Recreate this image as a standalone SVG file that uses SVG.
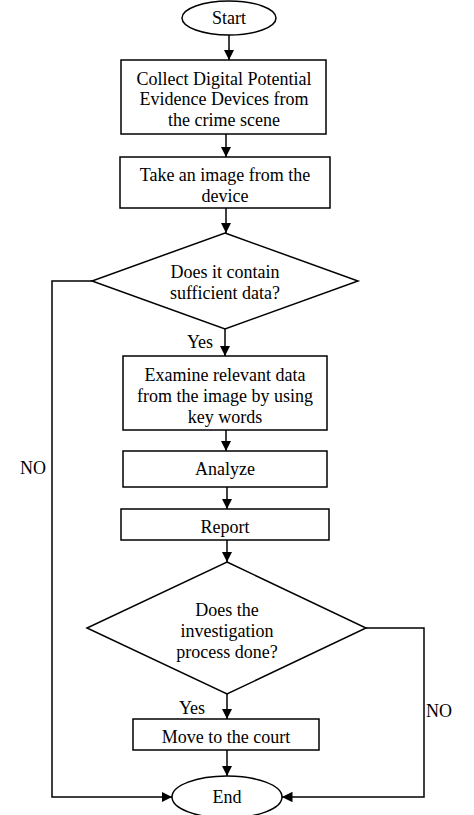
<svg xmlns="http://www.w3.org/2000/svg" width="474" height="815" viewBox="0 0 474 815">
<style>
.s{fill:#fff;stroke:#000;stroke-width:1.5}
.c{fill:none;stroke:#000;stroke-width:1.5}
text{font-family:"Liberation Serif","Times New Roman",serif;font-size:18px;fill:#000;text-anchor:middle}
</style>
<defs>
<marker id="a" viewBox="0 0 10 10" refX="10" refY="5" markerWidth="7" markerHeight="7" orient="auto" markerUnits="strokeWidth">
<path d="M0,0 L10,5 L0,10 z" fill="#000"/>
</marker>
</defs>
<rect width="474" height="815" fill="#fff"/>
<g id="connectors">
<path class="c" d="M229,35 V60" marker-end="url(#a)"/>
<path class="c" d="M226,134 V157" marker-end="url(#a)"/>
<path class="c" d="M226,208 V233" marker-end="url(#a)"/>
<path class="c" d="M225,329 V356" marker-end="url(#a)"/>
<path class="c" d="M226,430 V451" marker-end="url(#a)"/>
<path class="c" d="M227,487 V509" marker-end="url(#a)"/>
<path class="c" d="M227,540 V562" marker-end="url(#a)"/>
<path class="c" d="M227,694 V719" marker-end="url(#a)"/>
<path class="c" d="M227,750 V776" marker-end="url(#a)"/>
<path class="c" d="M92,281 H52 V797 H172" marker-end="url(#a)"/>
<path class="c" d="M366,628 H424 V797 H282" marker-end="url(#a)"/>
<text x="200" y="348">Yes</text>
<text x="192" y="714">Yes</text>
<text x="33" y="474">NO</text>
<text x="439" y="717">NO</text>
</g>
<g id="start">
<ellipse class="s" cx="229" cy="18" rx="47" ry="17"/>
<text x="229" y="24">Start</text>
</g>
<g id="collect">
<rect class="s" x="121" y="60" width="205" height="74"/>
<text x="224" y="85">Collect Digital Potential</text>
<text x="224" y="105">Evidence Devices from</text>
<text x="224" y="126">the crime scene</text>
</g>
<g id="image">
<rect class="s" x="120" y="157" width="210" height="51"/>
<text x="225" y="181">Take an image from the</text>
<text x="225" y="202">device</text>
</g>
<g id="decision1">
<polygon class="s" points="225,233 358,281 225,329 92,281"/>
<text x="225" y="278">Does it contain</text>
<text x="225" y="299">sufficient data?</text>
</g>
<g id="examine">
<rect class="s" x="123" y="356" width="204" height="74"/>
<text x="225" y="381">Examine relevant data</text>
<text x="225" y="402">from the image by using</text>
<text x="225" y="423">key words</text>
</g>
<g id="analyze">
<rect class="s" x="123" y="451" width="204" height="36"/>
<text x="225" y="475">Analyze</text>
</g>
<g id="report">
<rect class="s" x="121" y="509" width="208" height="31"/>
<text x="225" y="533">Report</text>
</g>
<g id="decision2">
<polygon class="s" points="227,562 366,628 227,694 87,628"/>
<text x="227" y="616">Does the</text>
<text x="227" y="637">investigation</text>
<text x="227" y="658">process done?</text>
</g>
<g id="court">
<rect class="s" x="133" y="719" width="186" height="31"/>
<text x="226" y="743">Move to the court</text>
</g>
<g id="end">
<ellipse class="s" cx="227" cy="797" rx="55" ry="21"/>
<text x="227" y="803">End</text>
</g>
</svg>
